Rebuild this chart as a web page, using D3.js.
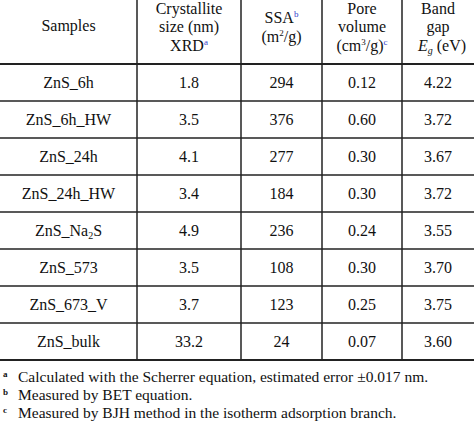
<!DOCTYPE html><html><head><meta charset="utf-8"><script src="https://d3js.org/d3.v7.min.js"></script>
<style>body{margin:0;background:#fff}text{font-family:'Liberation Serif','DejaVu Serif',serif}</style></head><body><svg id="c" width="474" height="423"></svg>
<script>
const samples=["ZnS_6h","ZnS_6h_HW","ZnS_24h","ZnS_24h_HW","ZnS_Na2S","ZnS_573","ZnS_673_V","ZnS_bulk"];
const crystallite=["1.8","3.5","4.1","3.4","4.9","3.5","3.7","33.2"];
const ssa=["294","376","277","184","236","108","123","24"];
const pore=["0.12","0.60","0.30","0.30","0.24","0.30","0.25","0.07"];
const gap=["4.22","3.72","3.67","3.72","3.55","3.70","3.75","3.60"];
const notes=[["a","Calculated with the Scherrer equation, estimated error ±0.017 nm."],["b","Measured by BET equation."],["c","Measured by BJH method in the isotherm adsorption branch."]];
const svg=d3.select("#c");
const colEdges=[0,137,241,322,402,474];
const y=d3.scaleLinear().domain([0,8]).range([64,360]);
const cx=i=>(colEdges[i]+colEdges[i+1])/2;
svg.append("line").attr("x1",0).attr("x2",474).attr("y1",y(0)).attr("y2",y(0)).attr("stroke","#222").attr("stroke-width",2);
for(let i=1;i<=8;i++)svg.append("line").attr("x1",0).attr("x2",474).attr("y1",y(i)).attr("y2",y(i)).attr("stroke","#222").attr("stroke-width",i==8?2:1.5);
colEdges.slice(1,5).forEach(x=>svg.append("line").attr("x1",x).attr("x2",x).attr("y1",0).attr("y2",y(8)).attr("stroke","#222").attr("stroke-width",1.5));
const fs=16;
function t(x,yy,anchor="middle"){return svg.append("text").attr("x",x).attr("y",yy).attr("text-anchor",anchor).attr("font-size",fs).attr("font-family","Liberation Serif, DejaVu Serif, serif").attr("fill","#111");}
t(cx(0),31).text("Samples");
t(cx(1),14).text("Crystallite");t(cx(1),32).text("size (nm)");
let h=t(cx(1),51);h.append("tspan").text("XRD");h.append("tspan").attr("dy",-6).attr("font-size",9).attr("fill","#3344cc").text("a");
h=t(cx(2),23);h.append("tspan").text("SSA");h.append("tspan").attr("dy",-6).attr("font-size",9).attr("fill","#3344cc").text("b");
h=t(cx(2),42);h.append("tspan").text("(m");h.append("tspan").attr("dy",-6).attr("font-size",9).text("2");h.append("tspan").attr("dy",6).text("/g)");
t(cx(3),14).text("Pore");t(cx(3),32).text("volume");
h=t(cx(3),51);h.append("tspan").text("(cm");h.append("tspan").attr("dy",-6).attr("font-size",9).text("3");h.append("tspan").attr("dy",6).text("/g)");h.append("tspan").attr("dy",-6).attr("font-size",9).attr("fill","#3344cc").text("c");
t(cx(4),14).text("Band");t(cx(4),32).text("gap");
h=t(cx(4)+4,51);h.append("tspan").attr("font-style","italic").text("E");h.append("tspan").attr("font-style","italic").attr("dy",3).attr("font-size",10).text("g");h.append("tspan").attr("dy",-3).text(" (eV)");
samples.forEach((s,i)=>{
  const yy=(y(i)+y(i+1))/2+5;
  const tt=t(cx(0),yy);
  if(s.includes("Na2S")){tt.append("tspan").text("ZnS_Na");tt.append("tspan").attr("dy",3).attr("font-size",10).text("2");tt.append("tspan").attr("dy",-3).text("S");}
  else tt.text(s);
  t(cx(1),yy).text(crystallite[i]);t(cx(2),yy).text(ssa[i]);t(cx(3),yy).text(pore[i]);t(cx(4),yy).text(gap[i]);
});
notes.forEach((n,i)=>{
  const yy=382+i*18;
  t(3,yy-5,"start").attr("font-size",9).attr("font-weight","bold").text(n[0]);
  t(18,yy,"start").attr("font-size",15.5).text(n[1]);
});
</script></body></html>
